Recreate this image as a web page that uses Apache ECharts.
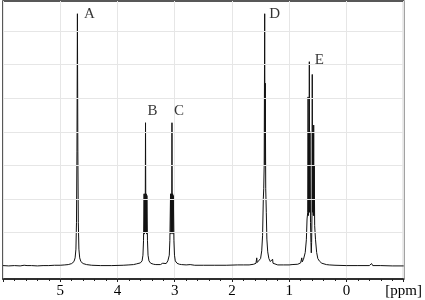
<!DOCTYPE html>
<html>
<head>
<meta charset="utf-8">
<script src="https://cdn.jsdelivr.net/npm/echarts@6/dist/echarts.min.js"></script>
<style>html,body{margin:0;padding:0;background:#fff}#c{width:425px;height:300px}</style>
</head>
<body>
<div id="c"></div>
<script>
// ---- data (ppm, intensity in gridline units) ----
const baseLeft = [[6.0,0.01],[5.9,0.0],[5.8,0.01],[5.7,0.0],[5.63,0.02],[5.6,0.05],[5.58,0.01],[5.5,0.01],[5.4,0.0],[5.3,0.01],[5.2,0.01],[5.1,0.02],[5.0,0.02]];
const peakA = [[4.92,0.03],[4.86,0.04],[4.80,0.07],[4.76,0.13],[4.74,0.24],[4.726,0.5],[4.716,1.3],[4.708,3.4],[4.70,7.52],[4.692,3.4],[4.684,1.3],[4.674,0.5],[4.66,0.24],[4.64,0.13],[4.60,0.07],[4.54,0.04],[4.45,0.02]];
const baseAB = [[4.3,0.01],[4.1,0.01],[3.9,0.02],[3.8,0.03]];
const peakB = [[3.72,0.04],[3.67,0.06],[3.655,0.1],[3.645,0.06],[3.6,0.09],[3.57,0.15],[3.555,0.32],[3.545,0.75],[3.535,2.15],[3.528,0.95],[3.522,2.15],[3.516,1.0],[3.51,4.27],[3.504,1.0],[3.498,2.15],[3.492,0.95],[3.486,2.1],[3.476,0.75],[3.466,0.32],[3.45,0.15],[3.42,0.08],[3.37,0.05],[3.35,0.09],[3.33,0.04],[3.25,0.04],[3.21,0.08],[3.19,0.05],[3.15,0.07]];
const peakC = [[3.12,0.15],[3.095,0.32],[3.085,0.75],[3.073,2.15],[3.066,0.95],[3.06,2.15],[3.054,1.0],[3.048,4.27],[3.042,1.0],[3.036,2.15],[3.03,0.95],[3.024,2.1],[3.014,0.75],[3.004,0.32],[2.99,0.15],[2.96,0.08],[2.92,0.05],[2.9,0.09],[2.88,0.04],[2.8,0.03],[2.73,0.04],[2.65,0.02]];
const baseCD = [[2.5,0.02],[2.3,0.02],[2.1,0.02],[1.9,0.03],[1.8,0.03]];
const peakD = [[1.70,0.03],[1.62,0.05],[1.58,0.08],[1.567,0.24],[1.56,0.1],[1.53,0.13],[1.50,0.22],[1.48,0.45],[1.465,0.9],[1.452,2.0],[1.445,2.3],[1.437,3.0],[1.428,7.52],[1.423,3.0],[1.418,5.45],[1.41,2.3],[1.40,1.6],[1.39,0.8],[1.375,0.42],[1.355,0.22],[1.33,0.13],[1.30,0.1],[1.29,0.2],[1.283,0.08],[1.25,0.05],[1.20,0.03]];
const baseDE = [[1.1,0.03],[1.0,0.03],[0.95,0.04]];
const peakE = [[0.85,0.05],[0.80,0.09],[0.78,0.24],[0.772,0.12],[0.75,0.2],[0.72,0.4],[0.70,0.78],[0.688,1.4],[0.676,1.6],[0.670,5.04],[0.665,1.5],[0.660,4.0],[0.654,1.6],[0.648,6.09],[0.642,1.6],[0.636,4.0],[0.628,1.3],[0.62,0.7],[0.614,0.39],[0.608,0.7],[0.602,1.5],[0.597,5.71],[0.591,1.6],[0.585,4.0],[0.578,1.5],[0.572,4.2],[0.567,1.5],[0.562,3.0],[0.555,1.2],[0.54,0.78],[0.52,0.4],[0.50,0.22],[0.47,0.14],[0.43,0.08],[0.35,0.04]];
const baseRight = [[0.3,0.03],[0.2,0.02],[0.0,0.01],[-0.2,0.01],[-0.4,0.01],[-0.44,0.07],[-0.46,0.01],[-0.6,0.01],[-0.8,0.0],[-1.0,0.0]];

const peakNames = ['A','B','C','D','E'];
const peakPpm   = [4.70, 3.51, 3.048, 1.428, 0.648];
const peakTop   = [7.52, 4.27, 4.27, 7.52, 6.09];
const gridLevels = [1,2,3,4,5,6,7];
const xTicks = {min:-1, max:6, interval:1};

// ---- styles ----
const labelOffsets = [[12,0],[7,-12],[7,-12],[10,0],[10,-2]];
const FONT = 'Liberation Serif';

const spectrum = [].concat(baseLeft, peakA, baseAB, peakB, peakC, baseCD, peakD, baseDE, peakE, baseRight);

const chart = echarts.init(document.getElementById('c'), null, {renderer:'canvas'});
chart.setOption({
  animation:false,
  backgroundColor:'#fff',
  grid:{left:1, right:18, top:1, bottom:21, show:true, borderColor:'#222', borderWidth:1.5, backgroundColor:'transparent'},
  xAxis:{
    type:'value', inverse:true, min:xTicks.min, max:xTicks.max, interval:xTicks.interval,
    axisLine:{show:true, onZero:false, lineStyle:{color:'#222', width:1.5}},
    axisTick:{show:true, length:3, lineStyle:{color:'#222'}},
    minorTick:{show:true, splitNumber:5, length:2, lineStyle:{color:'#222'}},
    splitLine:{show:true, lineStyle:{color:'#e6e6e6', width:1}},
    axisLabel:{fontFamily:FONT, fontSize:15, color:'#000', margin:5,
      formatter:v => v === -1 ? '[ppm]' : (v === 6 ? '' : String(v))}
  },
  yAxis:{
    type:'value', min:-0.39, max:7.9,
    axisLine:{show:false}, axisTick:{show:false}, axisLabel:{show:false}, splitLine:{show:false}
  },
  series:[
    {
      type:'line', data:[], z:1, silent:true,
      markLine:{silent:true, symbol:['none','none'], label:{show:false},
        lineStyle:{color:'#e6e6e6', width:1, type:'solid'},
        data:gridLevels.map(v => ({yAxis:v}))}
    },
    {
      type:'line', data:spectrum, z:3, showSymbol:false, symbol:'none', sampling:null,
      lineStyle:{color:'#111', width:1}, silent:true
    },
    {
      type:'scatter', z:4, symbolSize:0, silent:true,
      data:peakNames.map((n,i)=>({value:[peakPpm[i], peakTop[i]], name:n,
        label:{offset:labelOffsets[i]}})),
      label:{show:true, position:'inside', formatter:p=>p.name, fontFamily:FONT, fontSize:15, color:'#000'}
    }
  ]
});
</script>
</body>
</html>
